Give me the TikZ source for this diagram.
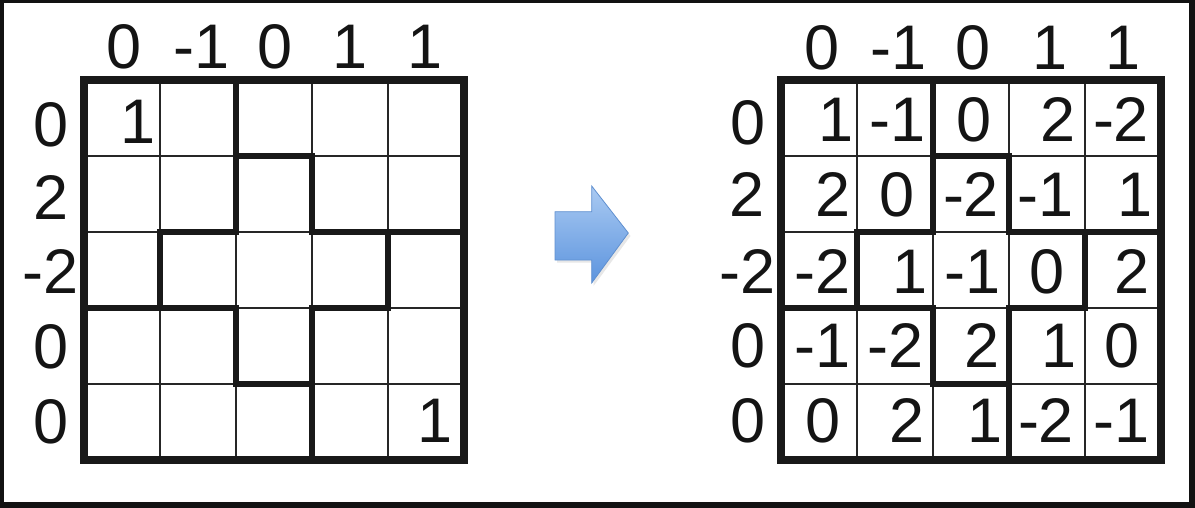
\documentclass[tikz,border=0pt]{standalone}
\usepackage{fontspec}
\setmainfont{Liberation Sans}
\definecolor{arrtop}{RGB}{170,202,242}
\definecolor{arrbot}{RGB}{92,148,222}
\definecolor{arredge}{RGB}{96,144,208}
\begin{document}
\begin{tikzpicture}[x=1pt,y=-1pt,
  num/.style={inner sep=0pt,outer sep=0pt,text=black!92,font=\fontsize{63}{63}\selectfont,anchor=center},
  thinline/.style={line width=2pt,draw=black!85},
  regline/.style={line width=6pt,draw=black!90,line cap=rect,line join=miter},
  outerline/.style={line width=8pt,draw=black!90,line join=miter}]
\useasboundingbox (0,0) rectangle (1195,508);
\fill[black!93] (0,0) rectangle (1195,508);
\fill[white] (4,3.3) rectangle (1189,501.7);

% ---------- grids ----------
\foreach \ox/\nm in {84/L,781/R}{
  \begin{scope}[shift={(\ox,80)}]
    \foreach \i in {1,2,3,4}{
      \draw[thinline] (\i*76,0) -- (\i*76,380);
      \draw[thinline] (0,\i*76) -- (380,\i*76);
    }
    \draw[regline] (152,0) -- (152,152) -- (76,152) -- (76,228) -- (0,228);
    \draw[regline] (152,76) -- (228,76) -- (228,152) -- (380,152);
    \draw[regline] (304,152) -- (304,228) -- (228,228) -- (228,380);
    \draw[regline] (76,228) -- (152,228) -- (152,304) -- (228,304);
    \draw[outerline] (0,0) rectangle (380,380);
  \end{scope}
}

% ---------- left puzzle labels ----------
\node[num] (lc1) at (124,46.7) {0};
\node[num] (lc2) at (201.1,46.7) {-1};
\node[num] (lc3) at (275,46.7) {0};
\node[num] (lc4) at (350.3,46.7) {1};
\node[num] (lc5) at (424.8,46.7) {1};
\node[num] (lr1) at (51,125) {0};
\node[num] (lr2) at (51,198) {2};
\node[num] (lr3) at (51,272) {-2};
\node[num] (lr4) at (51,347) {0};
\node[num] (lr5) at (51,421.7) {0};
\node[num] (l11) at (138.3,121.7) {1};
\node[num] (l55) at (434.8,421) {1};

% ---------- arrow ----------
\fill[black!30,opacity=0.3] (557,214) -- (593.5,214) -- (593.5,189) -- (630.5,236) -- (593.5,286) -- (593.5,262.5) -- (557,262.5) -- cycle;
\path[top color=arrtop,bottom color=arrbot,draw=arredge,line width=0.8pt]
  (555,211.7) -- (591.7,211.7) -- (591.7,186) -- (628.3,233) -- (591.7,283) -- (591.7,260) -- (555,260) -- cycle;

% ---------- right puzzle labels ----------
\node[num] (rc1) at (822.5,47.5) {0};
\node[num] (rc2) at (898.4,47.5) {-1};
\node[num] (rc3) at (973,47.5) {0};
\node[num] (rc4) at (1049.8,47.5) {1};
\node[num] (rc5) at (1123.3,47.5) {1};
\node[num] (rr1) at (748,123) {0};
\node[num] (rr2) at (747.5,195) {2};
\node[num] (rr3) at (747.5,271.7) {-2};
\node[num] (rr4) at (748,345.8) {0};
\node[num] (rr5) at (748,420.8) {0};

\node[num] (r11) at (836.3,120) {1};
\node[num] (r12) at (897.4,120) {-1};
\node[num] (r13) at (974,120) {0};
\node[num] (r14) at (1057.6,120) {2};
\node[num] (r15) at (1121,120) {-2};

\node[num] (r21) at (833.1,195) {2};
\node[num] (r22) at (896.7,195) {0};
\node[num] (r23) at (971,195) {-2};
\node[num] (r24) at (1045.4,195) {-1};
\node[num] (r25) at (1134.8,195) {1};

\node[num] (r31) at (822.5,271.7) {-2};
\node[num] (r32) at (909.8,271.7) {1};
\node[num] (r33) at (972.4,271.7) {-1};
\node[num] (r34) at (1047.5,271.7) {0};
\node[num] (r35) at (1131.6,271.7) {2};

\node[num] (r41) at (822.4,345.8) {-1};
\node[num] (r42) at (896,345.8) {-2};
\node[num] (r43) at (982.3,345.8) {2};
\node[num] (r44) at (1059,345.8) {1};
\node[num] (r45) at (1121.7,345.8) {0};

\node[num] (r51) at (823.3,420.8) {0};
\node[num] (r52) at (907.3,420.8) {2};
\node[num] (r53) at (984.8,420.8) {1};
\node[num] (r54) at (1046,420.8) {-2};
\node[num] (r55) at (1121.9,420.8) {-1};
\end{tikzpicture}
\end{document}
